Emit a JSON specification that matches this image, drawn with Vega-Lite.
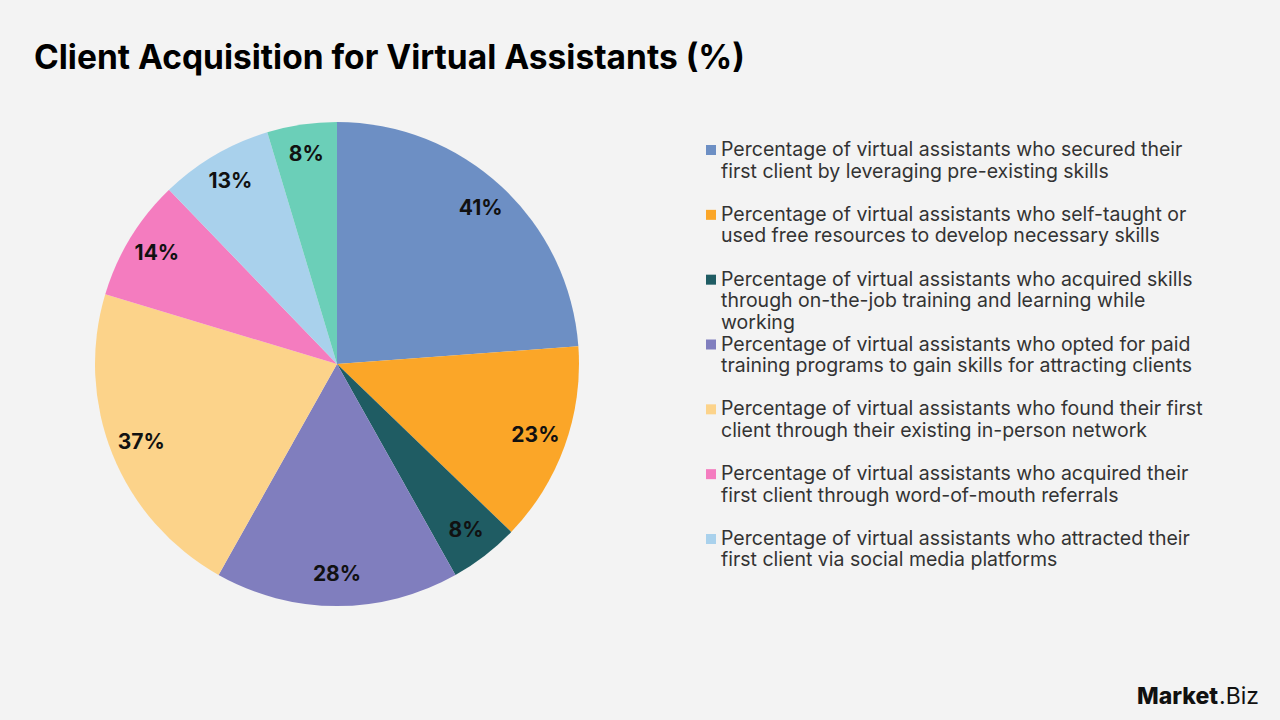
{
  "$schema": "https://vega.github.io/schema/vega-lite/v6.json",
  "autosize": {"type": "none"},
  "padding": {"left": 34, "top": 122, "right": 1246, "bottom": 598},
  "background": "#F3F3F3",
  "title": {
    "text": "Client Acquisition for Virtual Assistants (%)",
    "anchor": "start",
    "frame": "group",
    "offset": 51,
    "dy": 31,
    "baseline": "alphabetic",
    "font": "Inter",
    "fontSize": 33.5,
    "fontWeight": "bold",
    "color": "#000000"
  },
  "data": {
    "values": [
      {"idx": 1, "category": "Percentage of virtual assistants who secured their|first client by leveraging pre-existing skills", "value": 41, "label": "41%"},
      {"idx": 2, "category": "Percentage of virtual assistants who self-taught or|used free resources to develop necessary skills", "value": 23, "label": "23%"},
      {"idx": 3, "category": "Percentage of virtual assistants who acquired skills|through on-the-job training and learning while|working", "value": 8, "label": "8%"},
      {"idx": 4, "category": "Percentage of virtual assistants who opted for paid|training programs to gain skills for attracting clients", "value": 28, "label": "28%"},
      {"idx": 5, "category": "Percentage of virtual assistants who found their first|client through their existing in-person network", "value": 37, "label": "37%"},
      {"idx": 6, "category": "Percentage of virtual assistants who acquired their|first client through word-of-mouth referrals", "value": 14, "label": "14%"},
      {"idx": 7, "category": "Percentage of virtual assistants who attracted their|first client via social media platforms", "value": 13, "label": "13%"},
      {"idx": 8, "category": "Other", "value": 8, "label": "8%"}
    ]
  },
  "spacing": 66,
  "hconcat": [
    {
      "width": 606,
      "height": 484,
      "encoding": {
        "theta": {"field": "value", "type": "quantitative", "stack": true},
        "order": {"field": "idx", "type": "quantitative"},
        "color": {
          "field": "category",
          "type": "nominal",
          "sort": null,
          "legend": null,
          "scale": {
            "domain": [
              "Percentage of virtual assistants who secured their|first client by leveraging pre-existing skills",
              "Percentage of virtual assistants who self-taught or|used free resources to develop necessary skills",
              "Percentage of virtual assistants who acquired skills|through on-the-job training and learning while|working",
              "Percentage of virtual assistants who opted for paid|training programs to gain skills for attracting clients",
              "Percentage of virtual assistants who found their first|client through their existing in-person network",
              "Percentage of virtual assistants who acquired their|first client through word-of-mouth referrals",
              "Percentage of virtual assistants who attracted their|first client via social media platforms",
              "Other"
            ],
            "range": ["#6D8FC4", "#FBA628", "#1F5C63", "#807EBE", "#FCD38A", "#F47CBF", "#A9D1EC", "#6BCFB8"]
          }
        }
      },
      "layer": [
        {"mark": {"type": "arc", "outerRadius": 242}},
        {
          "mark": {"type": "text", "radius": 211, "font": "Inter", "fontSize": 21, "fontWeight": "bold"},
          "encoding": {"text": {"field": "label"}, "color": {"value": "#111111"}}
        }
      ]
    },
    {
      "spacing": 101,
      "vconcat": [
        {
          "width": 10,
          "height": 445,
          "transform": [{"filter": "datum.idx <= 7"}],
          "encoding": {
            "y": {"field": "idx", "type": "ordinal", "scale": {"type": "point", "padding": 0.432}, "axis": null}
          },
          "layer": [
            {
              "mark": {"type": "point", "shape": "square", "size": 100, "filled": true, "opacity": 1},
              "encoding": {
                "color": {
                  "field": "category",
                  "type": "nominal",
                  "sort": null,
                  "legend": null,
                  "scale": {
                    "domain": [
                      "Percentage of virtual assistants who secured their|first client by leveraging pre-existing skills",
                      "Percentage of virtual assistants who self-taught or|used free resources to develop necessary skills",
                      "Percentage of virtual assistants who acquired skills|through on-the-job training and learning while|working",
                      "Percentage of virtual assistants who opted for paid|training programs to gain skills for attracting clients",
                      "Percentage of virtual assistants who found their first|client through their existing in-person network",
                      "Percentage of virtual assistants who acquired their|first client through word-of-mouth referrals",
                      "Percentage of virtual assistants who attracted their|first client via social media platforms",
                      "Other"
                    ],
                    "range": ["#6D8FC4", "#FBA628", "#1F5C63", "#807EBE", "#FCD38A", "#F47CBF", "#A9D1EC", "#6BCFB8"]
                  }
                }
              }
            },
            {
              "mark": {"type": "text", "align": "left", "baseline": "middle", "dx": 10, "lineBreak": "|", "font": "Inter", "fontSize": 19.5, "lineHeight": 21.5, "color": "#333333"},
              "encoding": {"text": {"field": "category"}}
            }
          ]
        },
        {
          "width": 10,
          "height": 40,
          "data": {"values": [{"brand": "Market", "suffix": ".Biz"}]},
          "layer": [
            {
              "mark": {"type": "text", "align": "right", "baseline": "alphabetic", "dx": 507, "dy": 13, "font": "Inter", "fontSize": 23, "fontWeight": 800, "color": "#111111"},
              "encoding": {"text": {"field": "brand"}}
            },
            {
              "mark": {"type": "text", "align": "left", "baseline": "alphabetic", "dx": 508, "dy": 13, "font": "Inter", "fontSize": 23, "fontWeight": 400, "color": "#111111"},
              "encoding": {"text": {"field": "suffix"}}
            }
          ]
        }
      ]
    }
  ],
  "config": {"view": {"stroke": null}}
}
